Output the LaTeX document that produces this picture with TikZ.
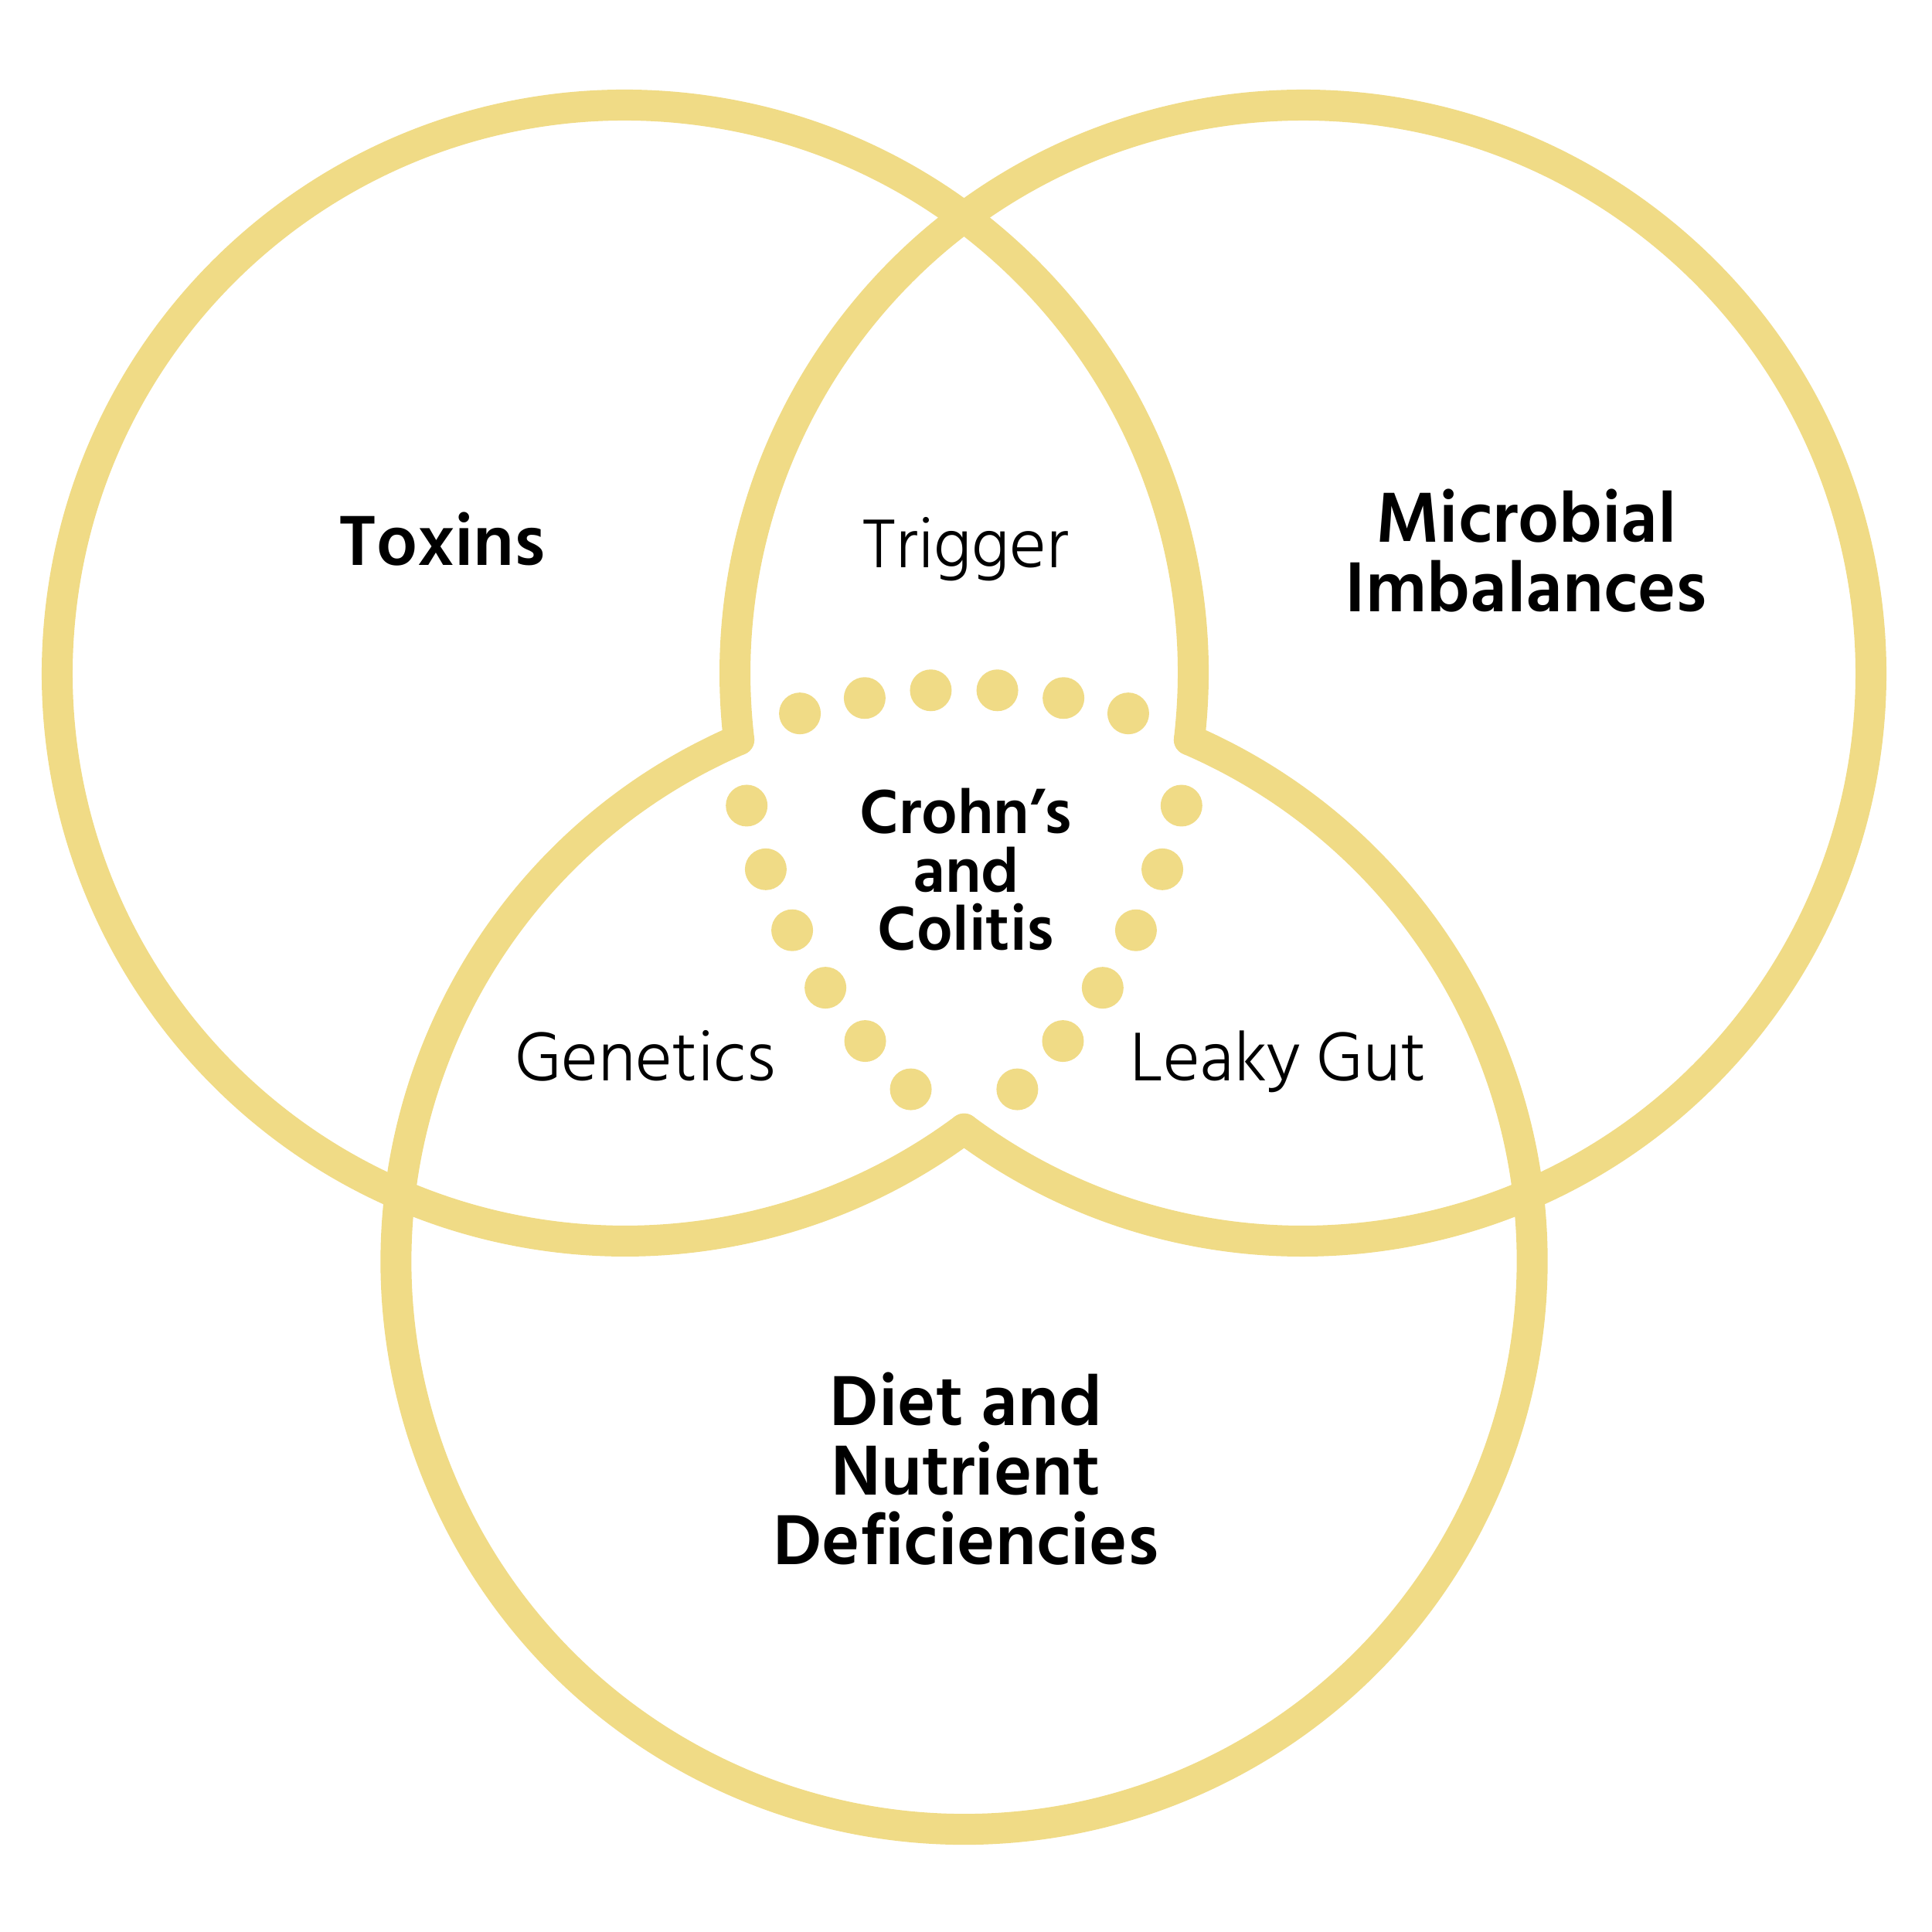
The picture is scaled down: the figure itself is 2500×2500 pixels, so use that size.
\documentclass[tikz,border=0pt]{standalone}
\usepackage{fontspec}
\setmainfont{Hind Siliguri}
\newfontfamily\lightfont{Hind Siliguri Light}
\definecolor{venn}{HTML}{F0DB86}

\begin{document}
\begin{tikzpicture}[
  x=0.01cm, y=0.01cm,
  ring/.style={draw=venn, line width=0.4cm, line cap=round},
  spot/.style={fill=venn},
  every node/.style={align=center, text=black, inner sep=0pt},
  setname/.style={font=\bfseries\fontsize{26.7}{25.6}\selectfont},
  overlap/.style={font=\lightfont\fontsize{26}{25}\selectfont},
  core/.style={font=\bfseries\fontsize{23.5}{21.6}\selectfont},
]
  \useasboundingbox (0,0) rectangle (2500,2500);

  % Circle centres
  \coordinate (cl) at (809,1629);
  \coordinate (cr) at (1686,1629);
  \coordinate (cb) at (1247.5,868);

  % Solid parts of the three rings
  \draw[ring] (cl) ++(-6.74:735) arc[start angle=-6.74, end angle=306.63, radius=735];
  \draw[ring] (cr) ++(233.37:735) arc[start angle=233.37, end angle=546.74, radius=735];
  \draw[ring] (cb) ++(113.36:735) arc[start angle=113.36, end angle=426.64, radius=735];

  % Dotted border of the centre
  \foreach \k in {1,...,6} {
    \fill[spot] (cl) ++({-53.37+\k*6.661}:740) circle[radius=27];
    \fill[spot] (cr) ++({186.74+\k*6.661}:740) circle[radius=27];
    \fill[spot] (cb) ++({66.64+\k*6.674}:740) circle[radius=27];
  }

  % Set names (base = last line)
  \node[setname, anchor=base] (toxins) at (572,1768) {Toxins};
  \node[setname, anchor=base] (microbes) at (1975,1708) {Microbial\\Imbalances};
  \node[setname, anchor=base] (diet) at (1250,475) {Diet and\\Nutrient\\Deficiencies};

  % Overlaps
  \node[overlap, anchor=base] (trigger) at (1250,1765) {Trigger};
  \node[overlap, anchor=base] (genetics) at (835,1101) {Genetics};
  \node[overlap, anchor=base] (leaky) at (1654,1101) {Leaky Gut};

  % Centre
  \node[core, anchor=base] (crohns) at (1250,1270) {Crohn’s\\and\\Colitis};
\end{tikzpicture}
\end{document}
